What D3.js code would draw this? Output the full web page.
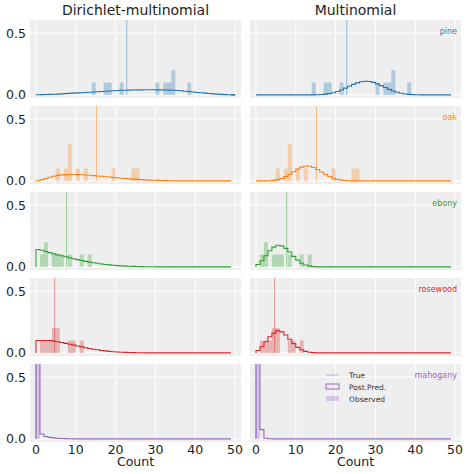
<!DOCTYPE html>
<html><head><meta charset="utf-8">
<script src="https://cdn.jsdelivr.net/npm/d3@7"></script>
<style>body{margin:0;background:#fff}text{font-family:"DejaVu Sans",sans-serif}</style>
</head><body><svg width="474" height="474"></svg>
<script>
let species = ["pine","oak","ebony","rosewood","mahogany"];
let colors = ["#1f77b4","#ff7f0e","#2ca02c","#d62728","#9467bd"];
let models = ["Dirichlet-multinomial","Multinomial"];
let trueVals = [22.8, 15.2, 7.7, 4.7, 0];
// observed counts (10 samples each)
let observed = [
  [14,17,18,21,30,32,33,34,34,38],
  [5,7,8,8,8,10,12,19,24,25],
  [1,2,2,4,5,6,8,11,13],
  [1,2,3,4,4,5,5,8,9,11],
  [0,0,0,0,0,0,0,0,0,0]
];
// posterior predictive densities per integer count, starting at 0
let ppcDM = [
  [0.001,0.002,0.003,0.004,0.005,0.006,0.008,0.010,0.012,0.014,0.016,0.018,0.020,0.022,0.024,0.026,0.028,0.030,0.032,0.034,0.036,0.037,0.038,0.039,0.040,0.041,0.041,0.042,0.042,0.042,0.041,0.041,0.040,0.039,0.037,0.035,0.033,0.030,0.027,0.024,0.020,0.017,0.014,0.011,0.008,0.006,0.004,0.002,0.001,0.0005],
  [0.001,0.010,0.020,0.030,0.038,0.045,0.049,0.051,0.052,0.052,0.051,0.050,0.048,0.046,0.043,0.040,0.037,0.034,0.031,0.028,0.025,0.022,0.019,0.016,0.014,0.012,0.010,0.008,0.006,0.005,0.004,0.003,0.002,0.0015,0.001,0.0005,0.0003,0.0002,0.0001,0.0001],
  [0.14,0.135,0.125,0.115,0.105,0.097,0.090,0.082,0.074,0.066,0.059,0.052,0.045,0.039,0.034,0.029,0.024,0.020,0.016,0.013,0.010,0.008,0.006,0.005,0.004,0.003,0.002,0.0015,0.001,0.0008,0.0005,0.0004,0.0003,0.0002,0.0001],
  [0.10,0.10,0.10,0.10,0.095,0.09,0.084,0.077,0.07,0.063,0.056,0.049,0.042,0.036,0.030,0.025,0.020,0.016,0.012,0.009,0.007,0.005,0.004,0.003,0.002,0.001,0.0008,0.0005,0.0003,0.0002],
  [1.0,0.04,0.02,0.012,0.008,0.005,0.003,0.002,0.001,0.0005]
];
let ppcM = [
  [0,0,0,0,0,0,0,0,0,0,0,0,0,0,0,0.001,0.003,0.006,0.011,0.018,0.028,0.040,0.055,0.070,0.085,0.097,0.106,0.110,0.108,0.101,0.089,0.075,0.060,0.045,0.032,0.021,0.013,0.007,0.004,0.002,0.001],
  [0,0,0,0.001,0.004,0.010,0.020,0.035,0.054,0.074,0.095,0.111,0.120,0.118,0.108,0.092,0.072,0.052,0.035,0.022,0.012,0.006,0.003,0.001],
  [0.02,0.05,0.09,0.13,0.16,0.175,0.17,0.15,0.12,0.085,0.055,0.03,0.015,0.006,0.002],
  [0.02,0.05,0.09,0.13,0.16,0.18,0.17,0.145,0.11,0.075,0.045,0.025,0.012,0.005,0.002],
  [0.92,0.075,0.005,0.001]
];

let svg = d3.select("svg");
let colX = [30, 250], pw = 211, ph = 78;
let rowY = [20,106,192,278,364];
let x = d3.scaleLinear().domain([-1.5,51.5]).range([0,pw]);
let y = d3.scaleLinear().domain([-0.025,0.605]).range([ph,0]);

models.forEach((m,c)=>{
  svg.append("text").attr("x",colX[c]+pw/2).attr("y",15).attr("text-anchor","middle")
    .attr("font-size",14).attr("fill","#222").text(m);
  species.forEach((s,r)=>{
    let g = svg.append("g").attr("transform",`translate(${colX[c]},${rowY[r]})`);
    g.append("defs").append("clipPath").attr("id",`cp${c}${r}`)
      .append("rect").attr("width",pw).attr("height",ph);
    g.append("rect").attr("width",pw).attr("height",ph).attr("fill","#eeeeee");
    g.selectAll("line.gx").data([0,10,20,30,40,50]).join("line")
      .attr("x1",d=>x(d)).attr("x2",d=>x(d)).attr("y1",0).attr("y2",ph)
      .attr("stroke","#fff").attr("stroke-width",1);
    g.selectAll("line.gy").data([0,0.5]).join("line")
      .attr("y1",d=>y(d)).attr("y2",d=>y(d)).attr("x1",0).attr("x2",pw)
      .attr("stroke","#fff").attr("stroke-width",1);
    let pg = g.append("g").attr("clip-path",`url(#cp${c}${r})`);
    let bins = d3.rollups(observed[r], v=>v.length, d=>d);
    pg.selectAll("rect.obs").data(bins).join("rect")
      .attr("x",d=>x(d[0])).attr("width",x(1)-x(0))
      .attr("y",d=>y(d[1]/10)).attr("height",d=>y(0)-y(d[1]/10))
      .attr("fill",colors[r]).attr("opacity",0.3);
    let vals = (c==0?ppcDM:ppcM)[r];
    let pts = vals.map((v,i)=>[i,v]);
    pts.push([vals.length,0]);
    let line = d3.line().x(d=>x(d[0])).y(d=>y(d[1])).curve(d3.curveStepAfter);
    pg.append("path").attr("d",line([[0,0]].concat(pts)))
      .attr("fill","none").attr("stroke",colors[r]).attr("stroke-width",1.1);
    pg.append("line").attr("x1",x(vals.length)).attr("x2",x(49)).attr("y1",y(0)).attr("y2",y(0))
      .attr("stroke",colors[r]).attr("stroke-width",1.1);
    pg.append("line").attr("x1",x(trueVals[r])).attr("x2",x(trueVals[r])).attr("y1",0).attr("y2",y(0))
      .attr("stroke",colors[r]).attr("stroke-opacity",0.45).attr("stroke-width",1);
    if(c==0){
      g.selectAll("text.yt").data([0,0.5]).join("text")
        .attr("x",-4).attr("y",d=>y(d)+4.5).attr("text-anchor","end")
        .attr("font-size",12.5).attr("fill","#222").text(d3.format(".1f"));
    } else {
      g.append("text").attr("x",pw-4).attr("y",14).attr("text-anchor","end")
        .attr("font-size",8).attr("fill",colors[r]).text(s);
    }
    if(r==4){
      g.selectAll("text.xt").data([0,10,20,30,40,50]).join("text")
        .attr("x",d=>x(d)).attr("y",ph+12).attr("text-anchor","middle")
        .attr("font-size",12.5).attr("fill","#222").text(d=>d);
      g.append("text").attr("x",pw/2).attr("y",ph+24).attr("text-anchor","middle")
        .attr("font-size",12.5).attr("fill","#222").text("Count");
    }
  });
});
// legend
let lg = svg.append("g").attr("transform","translate(326,375)");
let pc = colors[4];
lg.append("line").attr("x1",0).attr("x2",13).attr("y1",0).attr("y2",0).attr("stroke",pc).attr("stroke-opacity",0.5);
lg.append("rect").attr("x",0).attr("y",9).attr("width",13).attr("height",5).attr("fill","none").attr("stroke",pc);
lg.append("rect").attr("x",0).attr("y",21).attr("width",13).attr("height",5).attr("fill",pc).attr("opacity",0.3);
lg.selectAll("text").data(["True","Post.Pred.","Observed"]).join("text")
  .attr("x",23).attr("y",(d,i)=>3+i*12).attr("font-size",7.5).attr("fill","#333").text(d=>d);
</script></body></html>
